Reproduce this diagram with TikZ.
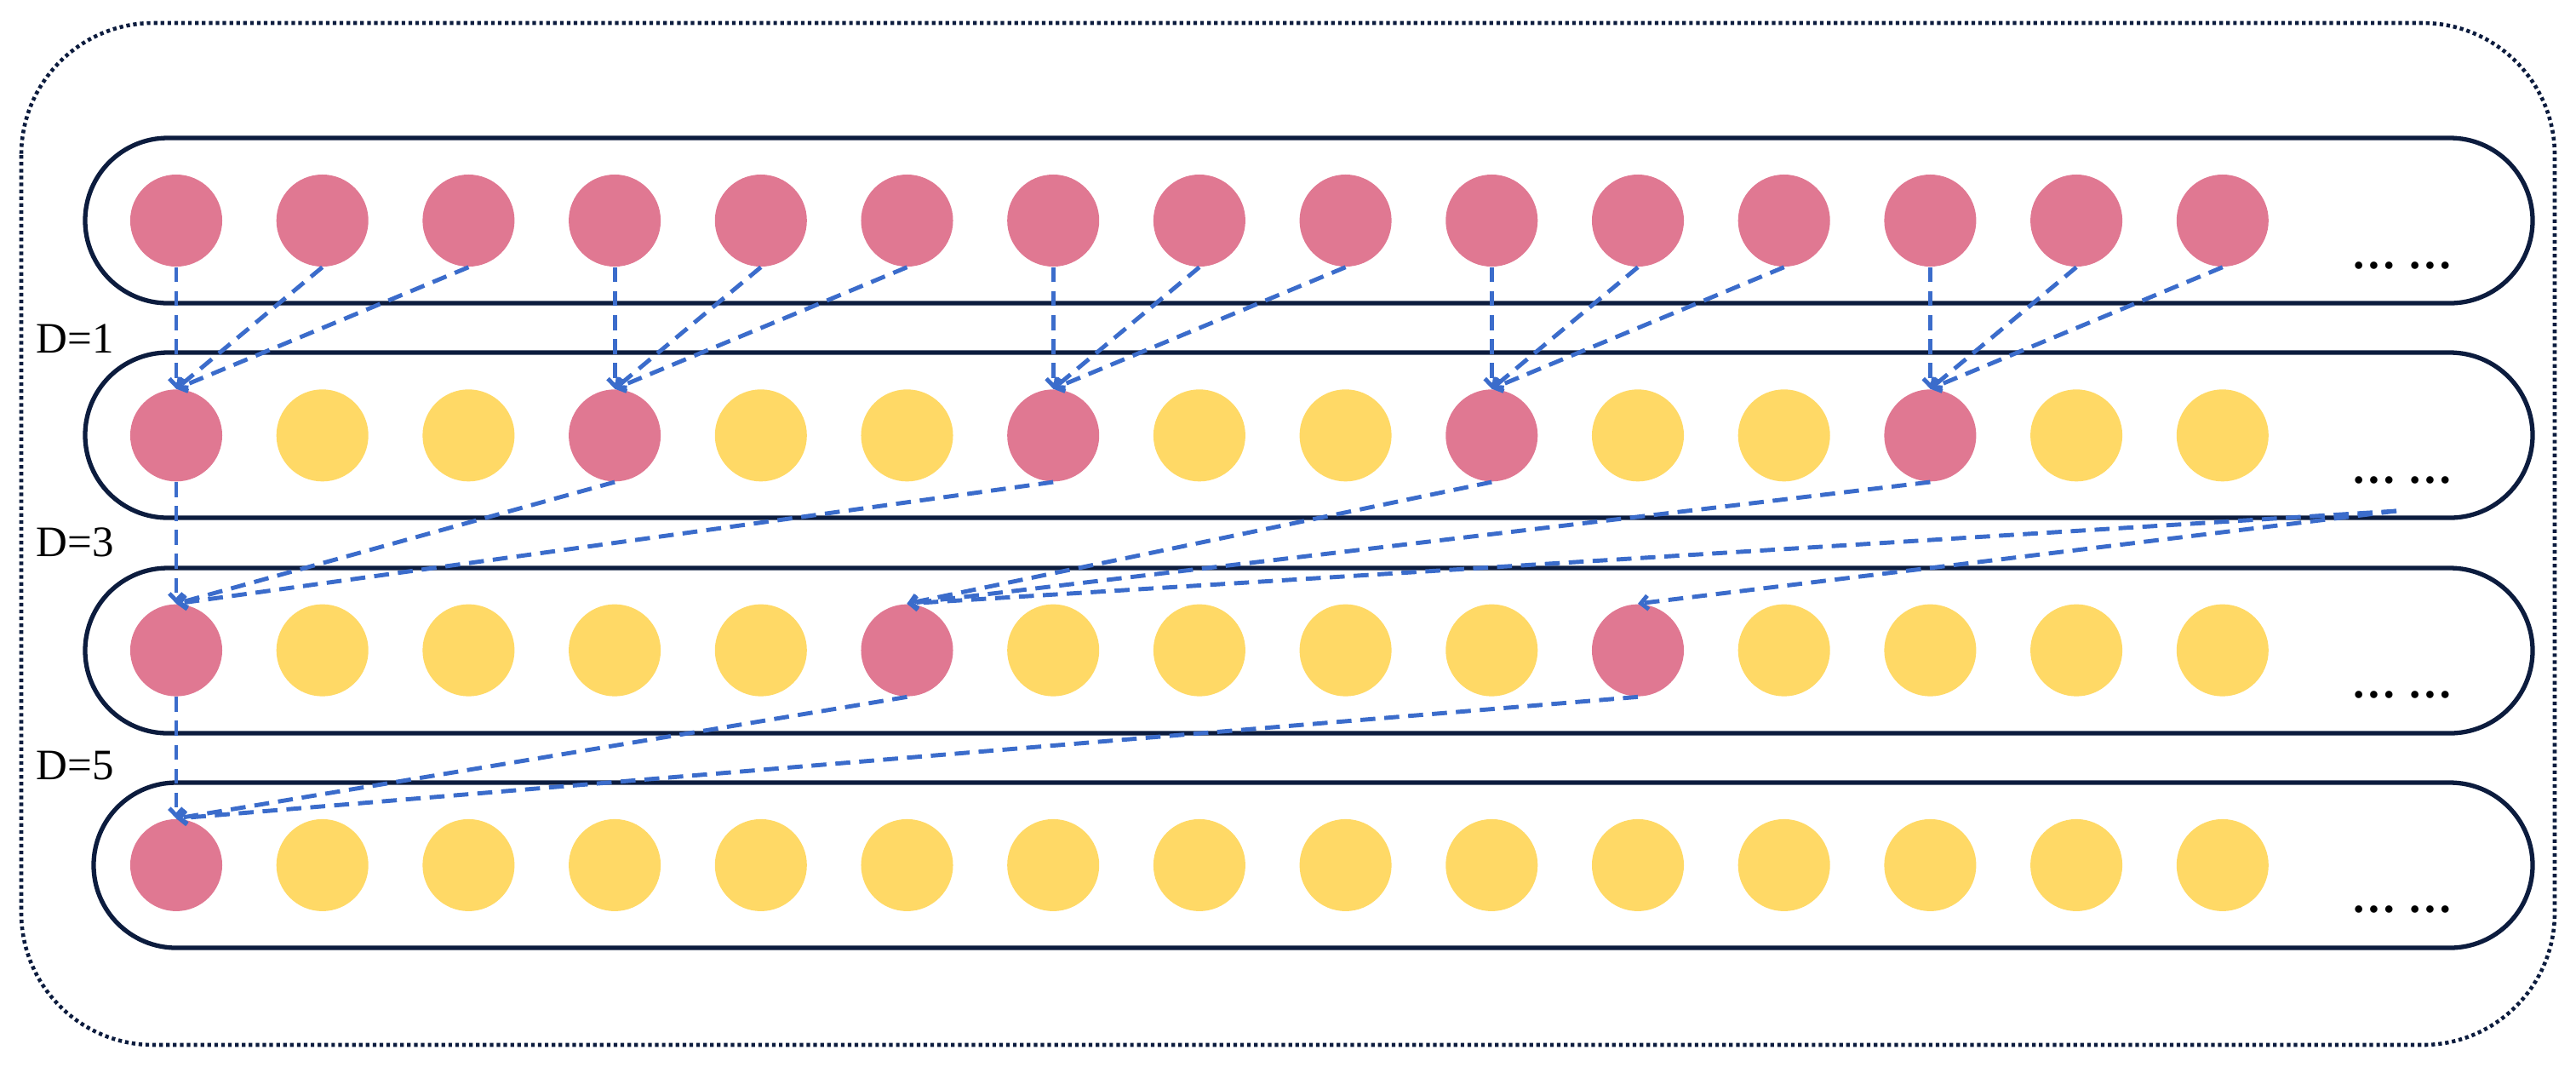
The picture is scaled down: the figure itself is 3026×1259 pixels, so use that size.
\documentclass[tikz,border=0pt]{standalone}
\usepackage{fontspec}
\setmainfont{Liberation Serif}
\usepackage{tikz}
\usetikzlibrary{arrows.meta}
\definecolor{pinkc}{HTML}{E07892}
\definecolor{goldc}{HTML}{FFD966}
\definecolor{linkc}{HTML}{3B6CCB}
\definecolor{navyc}{HTML}{0C1C3E}

\begin{document}
\begin{tikzpicture}[x=0.01cm, y=-0.01cm,
		ball/.style={circle, minimum size=1.08cm, inner sep=0pt},
		layer/.style={draw=navyc, line width=1.5pt, rounded corners=0.97cm},
		link/.style={draw=linkc, line width=1.4pt, dash pattern=on 5pt off 3pt, -{Straight Barb[length=2.4pt,width=4.6pt]}},
		dlabel/.style={font=\fontsize{14.5}{17}\selectfont},
		more/.style={font=\bfseries\fontsize{15}{18}\selectfont, anchor=base}]
	\useasboundingbox (0,0) rectangle (3026,1259);
	% outer frame
	\draw[navyc, line width=1.3pt, dash pattern=on 1.2pt off 1.1pt, rounded corners=1.55cm] (25,27) rectangle (3001,1227);
	% the four layers
	\draw[layer] (100,162) rectangle (2975,356);
	\draw[layer] (100,414) rectangle (2975,608);
	\draw[layer] (100,667) rectangle (2975,861);
	\draw[layer] (110,919) rectangle (2975,1113);
	% units, every \step-th one is active
	\foreach \row/\step in {1/1,2/3,3/5,4/15}{
		\foreach \col in {1,...,15}{
			\pgfmathtruncatemacro{\m}{mod(\col-1,\step)}
			\ifnum\m=0 \def\fc{pinkc}\else\def\fc{goldc}\fi
			\node[ball, fill=\fc] (r\row c\col) at ({207+171.7*(\col-1)}, {259+252.3*(\row-1)}) {};
		}
		\node[more] (more\row) at (2822, {259+252.3*(\row-1)+56}) {… …};
	}
	\node[dlabel] (d1) at (88,398) {D=1};
	\node[dlabel] (d3) at (88,637) {D=3};
	\node[dlabel] (d5) at (88,899) {D=5};
	% D=1
	\foreach \j in {1,4,7,10,13}{
		\pgfmathtruncatemacro{\ja}{\j+1}
		\pgfmathtruncatemacro{\jb}{\j+2}
		\draw[link] (r1c\j.south) -- (r2c\j.north);
		\draw[link] (r1c\ja.south) -- (r2c\j.north);
		\draw[link] (r1c\jb.south) -- (r2c\j.north);
	}
	% D=3
	\coordinate (r2c16) at (2815,600);
	\foreach \a/\b in {1/1,4/1,7/1,10/6,13/6}
		\draw[link] (r2c\a.south) -- (r3c\b.north);
	\draw[link] (r2c16) -- (r3c6.north);
	\draw[link] (r2c16) -- (r3c11.north);
	% D=5
	\foreach \a in {1,6,11}
		\draw[link] (r3c\a.south) -- (r4c1.north);
\end{tikzpicture}
\end{document}
